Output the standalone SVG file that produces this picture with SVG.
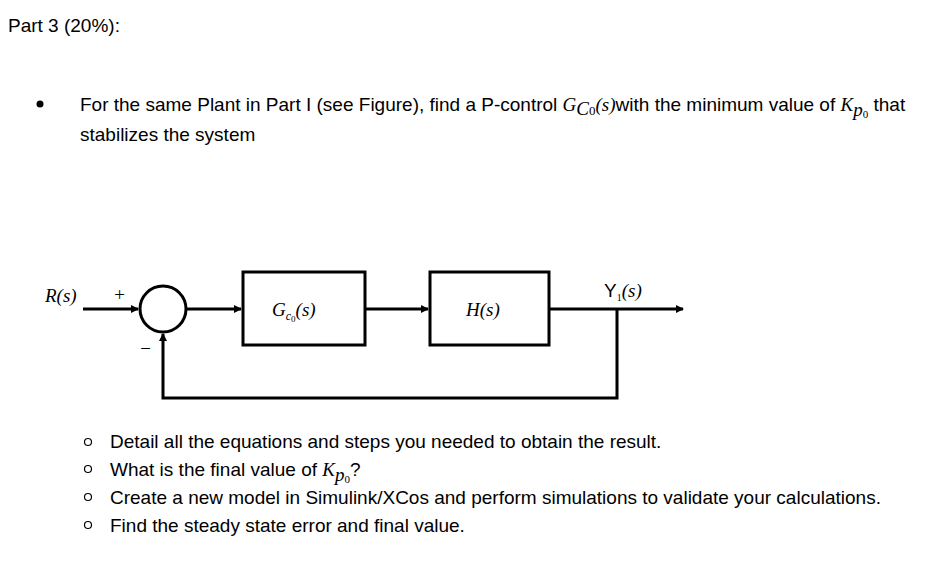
<svg xmlns="http://www.w3.org/2000/svg" width="934" height="572" viewBox="0 0 934 572">
<style>
.t{font-family:"Liberation Sans Narrow","Liberation Sans",Arial,sans-serif;font-size:19px;fill:#000}
.m{font-family:"Liberation Serif","DejaVu Serif",serif;font-style:italic;font-size:19px;fill:#000}
.ln{stroke:#000;stroke-width:3;fill:none}
.bx{stroke:#000;stroke-width:3;fill:#fff}
</style>
<defs><marker id="a" markerWidth="8" markerHeight="8" refX="7" refY="4" orient="auto" markerUnits="userSpaceOnUse"><path d="M0,0 L8,4 L0,8 Z" fill="#000"/></marker></defs>
<rect width="934" height="572" fill="#fff"/>
<text class="t" x="8" y="32">Part 3 (20%):</text>
<circle cx="40" cy="104" r="3.5" fill="#000"/>
<text class="t" x="80" y="111">For the same Plant in Part I (see Figure), find a P-control <tspan class="m">G</tspan><tspan class="m" font-size="13" dy="4">C</tspan><tspan font-family="Liberation Serif" font-size="13" dy="0">0</tspan><tspan class="m" dy="-4">(s)</tspan>with the minimum value of <tspan class="m">K</tspan><tspan class="m" font-size="13" dy="5">p</tspan><tspan font-family="Liberation Serif" font-size="11" dy="2">0</tspan><tspan dy="-7"> that</tspan></text>
<text class="t" x="80" y="141">stabilizes the system</text>
<g id="connectors">
<path class="ln" d="M83,309 H138" marker-end="url(#a)"/>
<path class="ln" d="M186,309 H241" marker-end="url(#a)"/>
<path class="ln" d="M366,309 H428" marker-end="url(#a)"/>
<path class="ln" d="M550,309 H683" marker-end="url(#a)"/>
<path class="ln" d="M617,309 V398 H163 V334" marker-end="url(#a)"/>
</g>
<g id="sum"><circle cx="163" cy="309" r="23" class="bx"/><text class="m" font-style="normal" x="113" y="301">+</text><text class="m" font-style="normal" x="139" y="355">−</text></g>
<text class="m" x="45" y="302">R(s)</text>
<g id="gc"><rect class="bx" x="243" y="272" width="122" height="73"/><text class="m" x="272" y="316">G<tspan font-size="12" dy="4">c</tspan><tspan font-size="9" dy="2" font-style="normal">0</tspan><tspan dy="-6">(s)</tspan></text></g>
<g id="h"><rect class="bx" x="430" y="272" width="119" height="73"/><text class="m" x="466" y="316">H(s)</text></g>
<text class="m" x="604" y="297"><tspan font-style="normal" font-family="Liberation Sans">Y</tspan><tspan font-size="10" dy="4" font-style="normal">1</tspan><tspan dy="-4">(s)</tspan></text>
<g fill="none" stroke="#000" stroke-width="1.2"><circle cx="88" cy="442" r="3.5"/><circle cx="88" cy="469" r="3.5"/><circle cx="88" cy="497" r="3.5"/><circle cx="88" cy="525" r="3.5"/></g>
<text class="t" x="110" y="448">Detail all the equations and steps you needed to obtain the result.</text>
<text class="t" x="110" y="476">What is the final value of <tspan class="m">K</tspan><tspan class="m" font-size="13" dy="5">p</tspan><tspan font-family="Liberation Serif" font-size="11" dy="2">0</tspan><tspan dy="-7">?</tspan></text>
<text class="t" x="110" y="504">Create a new model in Simulink/XCos and perform simulations to validate your calculations.</text>
<text class="t" x="110" y="532">Find the steady state error and final value.</text>
</svg>
